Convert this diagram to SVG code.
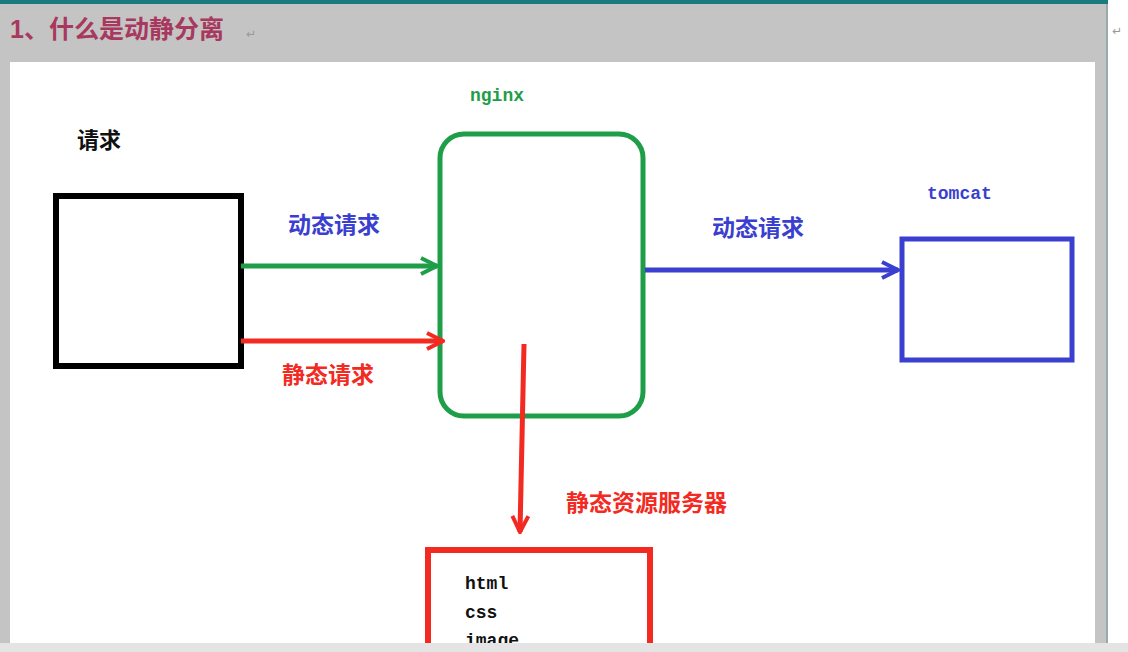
<svg xmlns="http://www.w3.org/2000/svg" width="1128" height="652" viewBox="0 0 1128 652">
<style>
.cn{font-family:"Liberation Sans","Noto Sans CJK SC",sans-serif;font-weight:bold}
.mono{font-family:"Liberation Mono","DejaVu Sans Mono",monospace;font-weight:bold}
</style>
<defs>
<marker id="ag" viewBox="0 0 10 10" refX="9" refY="5" markerWidth="4" markerHeight="4" orient="auto"><path d="M1,1 L9,5 L1,9" fill="none" stroke="#1e9e48" stroke-width="2"/></marker>
<marker id="ar" viewBox="0 0 10 10" refX="9" refY="5" markerWidth="4" markerHeight="4" orient="auto"><path d="M1,1 L9,5 L1,9" fill="none" stroke="#f22a22" stroke-width="2"/></marker>
<marker id="ab" viewBox="0 0 10 10" refX="9" refY="5" markerWidth="4" markerHeight="4" orient="auto"><path d="M1,1 L9,5 L1,9" fill="none" stroke="#3b3fd0" stroke-width="2"/></marker>
</defs>
<rect width="1128" height="652" fill="#ffffff"/>
<rect x="0" y="0" width="1108" height="645" fill="#c4c4c4"/>
<rect x="0" y="0" width="1108" height="4" fill="#1a7a80"/>
<rect x="1106" y="4" width="2" height="641" fill="#9aa"/>
<rect x="10" y="62" width="1085" height="583" fill="#ffffff"/>
<text x="10" y="38" class="cn" font-size="25" fill="#a8385e">1、什么是动静分离</text>
<text x="246" y="38" font-family="DejaVu Sans,sans-serif" font-size="12" fill="#999">↵</text>
<text x="1112" y="35" font-family="DejaVu Sans,sans-serif" font-size="12" fill="#999">↵</text>

<g id="client"><rect x="56" y="196" width="185" height="170" fill="none" stroke="#000" stroke-width="6"/>
<text x="77" y="148" class="cn" font-size="22" fill="#111">请求</text></g>
<g id="nginx"><rect x="440" y="134" width="203" height="282" rx="24" fill="none" stroke="#1e9e48" stroke-width="5"/>
<text x="470" y="101" class="mono" font-size="18" fill="#1e9e48">nginx</text></g>
<g id="tomcat"><rect x="902" y="239" width="170" height="121" fill="none" stroke="#3b3fd0" stroke-width="5"/>
<text x="927" y="199" class="mono" font-size="18" fill="#3b3fd0">tomcat</text></g>
<g id="static"><rect x="428" y="550" width="222" height="110" fill="none" stroke="#f22a22" stroke-width="6"/>
<text x="465" y="589" class="mono" font-size="18" fill="#111">html</text>
<text x="465" y="618" class="mono" font-size="18" fill="#111">css</text>
<text x="465" y="646" class="mono" font-size="18" fill="#111">image</text></g>
<rect x="0" y="643" width="1128" height="9" fill="#e4e4e4"/>

<g id="connectors">
<line x1="241" y1="266" x2="437" y2="266" stroke="#1e9e48" stroke-width="5" marker-end="url(#ag)"/>
<line x1="241" y1="341" x2="443" y2="341" stroke="#f22a22" stroke-width="5" marker-end="url(#ar)"/>
<line x1="645" y1="270" x2="898" y2="270" stroke="#3b3fd0" stroke-width="5" marker-end="url(#ab)"/>
<line x1="524" y1="344" x2="520" y2="532" stroke="#f22a22" stroke-width="5" marker-end="url(#ar)"/>
<text x="288" y="233" class="cn" font-size="23" fill="#3b3fd0">动态请求</text>
<text x="282" y="383" class="cn" font-size="23" fill="#f22a22">静态请求</text>
<text x="712" y="236" class="cn" font-size="23" fill="#3b3fd0">动态请求</text>
<text x="566" y="511" class="cn" font-size="23" fill="#f22a22">静态资源服务器</text>
</g>
</svg>
